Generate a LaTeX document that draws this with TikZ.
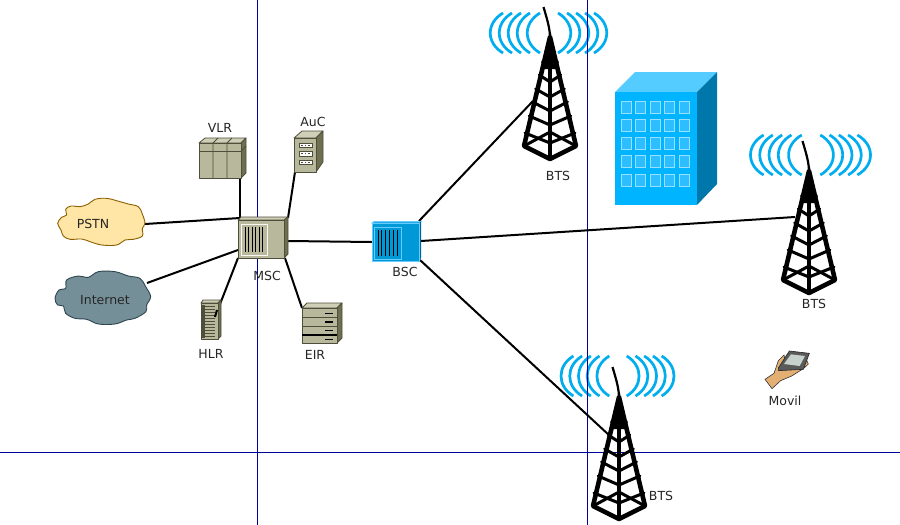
\documentclass[tikz,border=0pt]{standalone}
\usepackage{fontspec}
\setmainfont{DejaVu Sans}
\definecolor{wave}{HTML}{00AEEF}
\definecolor{guide}{HTML}{00009A}
\definecolor{grayA}{HTML}{B8B89C}
\definecolor{grayB}{HTML}{CFCFB8}
\definecolor{grayC}{HTML}{6E6E50}
\definecolor{grayD}{HTML}{4E4E3A}
\tikzset{
  x=1pt,y=-1pt,
  lbl/.style={font=\fontsize{12.5}{14}\selectfont,text=black!85,inner sep=0pt},
  link/.style={black,line width=2pt},
  guideline/.style={guide,line width=1pt},
  face/.style={draw=grayD,line width=.8pt,line join=round},
  arc/.style={wave,line width=2.7pt},
  rung/.style={line width=3pt,line join=round,line cap=round},
  frontface/.style={inner sep=0pt,outer sep=0pt,anchor=north west},
  waves/.pic={
    \foreach \m in {-59,-50,-41,-32,-22}{
      \draw[arc] (\m+13,-20) .. controls (\m-4,-10) and (\m-4,10) .. (\m+13,20);}
    \foreach \m in {22,31,40,49,58}{
      \draw[arc] (\m-13,-20) .. controls (\m+4,-10) and (\m+4,10) .. (\m-13,20);}
  },
  tower/.pic={
    \fill (-6,36) -- (-1,0) -- (1,0) -- (6,36) -- cycle;
    \draw[line width=2.2pt] (-6.5,-26) .. controls (-3,-14) and (-1,-8) .. (0,2);
    \draw[line width=4.6pt,line join=round,line cap=round] (0,4) -- (-26,113) -- (0,126) -- (26,113) -- cycle;
    \draw[line width=4pt] (0,4) -- (0,127);
    \draw[rung] (-26,113) -- (0,99) -- (26,113);
    \foreach \c/\d/\f in {36/7/.29,49/7/.41,64/8/.55,78/9/.67,92/9/.80,110/10/.96}{
      \draw[rung] (-26*\f,\c-\d) -- (0,\c) -- (26*\f,\c-\d);}
  },
}
\begin{document}
\begin{tikzpicture}
\useasboundingbox (0,0) rectangle (900,525);
\fill[white] (0,0) rectangle (900,525);
% waves
\pic at (549,33) {waves};
\pic[xscale=1.03] at (811,155) {waves};
\pic[xscale=.97] at (618,376) {waves};
% guide lines
\draw[guideline] (257,0) -- (257,525);
\draw[guideline] (587,0) -- (587,525);
\draw[guideline] (0,452.5) -- (900,452.5);
% ports used by the connectors
\coordinate (bts1) at (533,101);
\coordinate (bts2) at (795,217);
\coordinate (bts3) at (610,436);
\coordinate (pstnp) at (145,224);
\coordinate (inetp) at (147,283);
\coordinate (vlrp) at (240,178);
\coordinate (aucp) at (295,172);
\coordinate (hlrp) at (215,317);
\coordinate (eirp) at (302,308);
\coordinate (mscN) at (240,218);
\coordinate (mscNE) at (288,218);
\coordinate (mscE) at (288,241);
\coordinate (mscW) at (238,250);
\coordinate (mscSW) at (238,258);
\coordinate (mscSE) at (285,258);
\coordinate (bscW) at (372,242);
\coordinate (bscNE) at (419,221);
\coordinate (bscE) at (421,241);
\coordinate (bscSE) at (420,260);
% connectors
\draw[link] (pstnp) -- (mscN);
\draw[link] (vlrp) -- (mscN);
\draw[link] (aucp) -- (mscNE);
\draw[link] (inetp) -- (mscW);
\draw[link] (hlrp) -- (mscSW);
\draw[link] (eirp) -- (mscSE);
\draw[link] (mscE) -- (bscW);
\draw[link] (bscNE) -- (bts1);
\draw[link] (bscE) -- (bts2);
\draw[link] (bscSE) -- (bts3);
% towers
\pic at (550,33) {tower};
\pic at (809,167) {tower};
\pic at (619,393) {tower};
% building
\fill[fill={rgb,255:red,85;green,204;blue,255}] (615,92) -- (635,72) -- (717,72) -- (697,92) -- cycle;
\fill[fill={rgb,255:red,0;green,119;blue,170}] (697,92) -- (717,72) -- (717,184) -- (697,205) -- cycle;
\node[frontface,fill={rgb,255:red,0;green,180;blue,255},minimum width=82pt,minimum height=113pt] (building) at (615,92) {};
\foreach \wx in {621,635,650,664,679}
  \foreach \wy in {101,119,137,155,174}
    \draw[draw={rgb,255:red,153;green,224;blue,255},fill={rgb,255:red,45;green,190;blue,255},line width=.9pt] (\wx,\wy) rectangle ++(10.5,12);
% clouds
\begin{scope}[shift={(45,190)},x=.3333pt,y=-.3333pt]
\draw[draw={rgb,255:red,140;green,95;blue,0},fill={rgb,255:red,255;green,230;blue,166},line width=.9pt] plot[smooth cycle,tension=.6] coordinates {(38,100)(50,82)(65,75)(62,58)(78,48)(105,50)(130,42)(150,28)(185,25)(225,35)(250,42)(280,50)(292,72)(300,100)(292,115)(292,138)(265,148)(240,150)(215,165)(170,165)(135,155)(110,147)(75,148)(55,138)(48,120)};
\draw[draw={rgb,255:red,45;green,70;blue,80},fill={rgb,255:red,117;green,143;blue,153},line width=.9pt] plot[smooth cycle,tension=.6] coordinates {(30,325)(42,300)(62,295)(65,270)(100,258)(130,262)(160,245)(210,245)(250,258)(285,265)(302,290)(317,320)(305,345)(303,365)(270,385)(245,390)(210,402)(160,402)(125,388)(90,385)(62,370)(55,348)(38,345)};
\end{scope}
% VLR
\draw[face,fill=grayB] (199,143) -- (205,138) -- (246,138) -- (241,143) -- cycle;
\draw[face,fill=grayC] (241,143) -- (246,138) -- (246,173) -- (241,178) -- cycle;
\node[frontface,face,fill=grayA,minimum width=42pt,minimum height=35pt] (vlr) at (199,143) {};
\draw[face] (199,151.5) -- (241,151.5) (213,143) -- (213,178) (227,143) -- (227,178) (213,143) -- (218,138) (227,143) -- (232,138) (241,151.5) -- (246,146);
% AuC
\draw[face,fill=grayB] (294,138) -- (302,131) -- (323,131) -- (316,138) -- cycle;
\draw[face,fill=grayC] (316,138) -- (323,131) -- (323,162) -- (316,172) -- cycle;
\node[frontface,face,fill=grayA,minimum width=22pt,minimum height=34pt] (auc) at (294,138) {};
\foreach \sy in {143,151.5,160}
  \draw[draw=grayD,fill=white,line width=.6pt] (299.5,\sy) rectangle (312,\sy+4.5);
\foreach \sy in {145.2,153.7,162.2}
  \draw[grayD,line width=1pt,dash pattern=on 1.5pt off 2pt] (301,\sy) -- (311,\sy);
% MSC
\draw[face,fill=grayB] (238,220) -- (241,217) -- (288,217) -- (284,220) -- cycle;
\draw[face,fill=grayC] (284,220) -- (288,217) -- (288,254) -- (284,258) -- cycle;
\node[frontface,face,fill=grayA,minimum width=46pt,minimum height=38pt] (msc) at (238,220) {};
\draw[draw=white!90!grayA,line width=.9pt] (241,224) rectangle (267,255);
\foreach \lx in {245,248.5,252,255.5,259,262.5}
  \draw[black,line width=.9pt] (\lx,227) -- (\lx,252);
% BSC
\draw[draw={rgb,255:red,102;green,204;blue,255},fill={rgb,255:red,0;green,153;blue,216},line width=.8pt] (372,223) -- (374,221.5) -- (421,221.5) -- (419,223) -- cycle;
\fill[fill={rgb,255:red,0;green,100;blue,140}] (419,223) -- (421,221.5) -- (421,258) -- (419,261) -- cycle;
\node[frontface,draw={rgb,255:red,102;green,204;blue,255},fill={rgb,255:red,0;green,153;blue,216},line width=.9pt,minimum width=47pt,minimum height=38pt] (bsc) at (372,223) {};
\draw[draw={rgb,255:red,102;green,204;blue,255},line width=.9pt] (374,227) rectangle (401,259);
\foreach \lx in {378,381.8,385.6,389.4,393.2,397}
  \draw[black,line width=.9pt] (\lx,230) -- (\lx,256);
% HLR
\draw[face,fill=grayB] (201,303) -- (203,300) -- (221,300) -- (218,303) -- cycle;
\draw[face,fill=grayC] (218,303) -- (221,300) -- (221,336) -- (218,339) -- cycle;
\node[frontface,face,fill=grayA,minimum width=17pt,minimum height=36pt] (hlr) at (201,303) {};
\fill[grayD] (201.5,305) rectangle (205,338);
\foreach \sy in {306,309,312,315,318,321,324,327,330,333,336}
  \draw[grayD,line width=1pt] (205,\sy) -- (215,\sy);
\draw[link] (hlrp) -- (217,310);
% EIR
\draw[face,fill=grayB] (302,308) -- (307,303) -- (342,303) -- (337,308) -- cycle;
\draw[face,fill=grayC] (337,308) -- (342,303) -- (342,338) -- (337,343) -- cycle;
\node[frontface,face,fill=grayA,minimum width=35pt,minimum height=35pt] (eir) at (302,308) {};
\draw[grayD,line width=.9pt] (302,317) -- (337,317) (302,326) -- (337,326);
\draw[black,line width=1.6pt] (302,335) -- (337,335);
\draw[black,line width=.9pt] (325,313) -- (333,313) (325,330.5) -- (333,330.5) (325,339.2) -- (333,339.2);
\draw[black,line width=1.8pt] (325,322) -- (333,322);
% Handset
\begin{scope}[shift={(750,340)},x=.3333pt,y=-.3333pt]
\draw[draw=black!80,fill={rgb,255:red,228;green,175;blue,115},line width=.6pt] (45,118) -- (72,100) -- (85,62) -- (102,45) -- (105,58) -- (122,38) -- (165,50) -- (175,72) -- (160,86) -- (125,108) -- (92,122) -- (66,146) -- cycle;
\draw[draw=black!85,fill={rgb,255:red,90;green,90;blue,90},line width=.6pt] (85,84) -- (118,33) -- (178,40) -- (160,88) -- (85,92) -- cycle;
\fill[fill={rgb,255:red,200;green,210;blue,205}] (102,72) -- (123,43) -- (165,48) -- (149,78) -- cycle;
\end{scope}
% labels
\node[lbl] (lvlr) at (220,128) {VLR};
\node[lbl] (lauc) at (313,122) {AuC};
\node[lbl] (lmsc) at (267,276) {MSC};
\node[lbl] (lbsc) at (405,272) {BSC};
\node[lbl] (lhlr) at (211,354) {HLR};
\node[lbl] (leir) at (315,355) {EIR};
\node[lbl] (lpstn) at (93,224) {PSTN};
\node[lbl] (linet) at (105,300) {Internet};
\node[lbl] (lb1) at (558,176) {BTS};
\node[lbl] (lb2) at (814,304) {BTS};
\node[lbl] (lb3) at (661,496) {BTS};
\node[lbl] (lmov) at (785,401) {Movil};
\end{tikzpicture}
\end{document}
